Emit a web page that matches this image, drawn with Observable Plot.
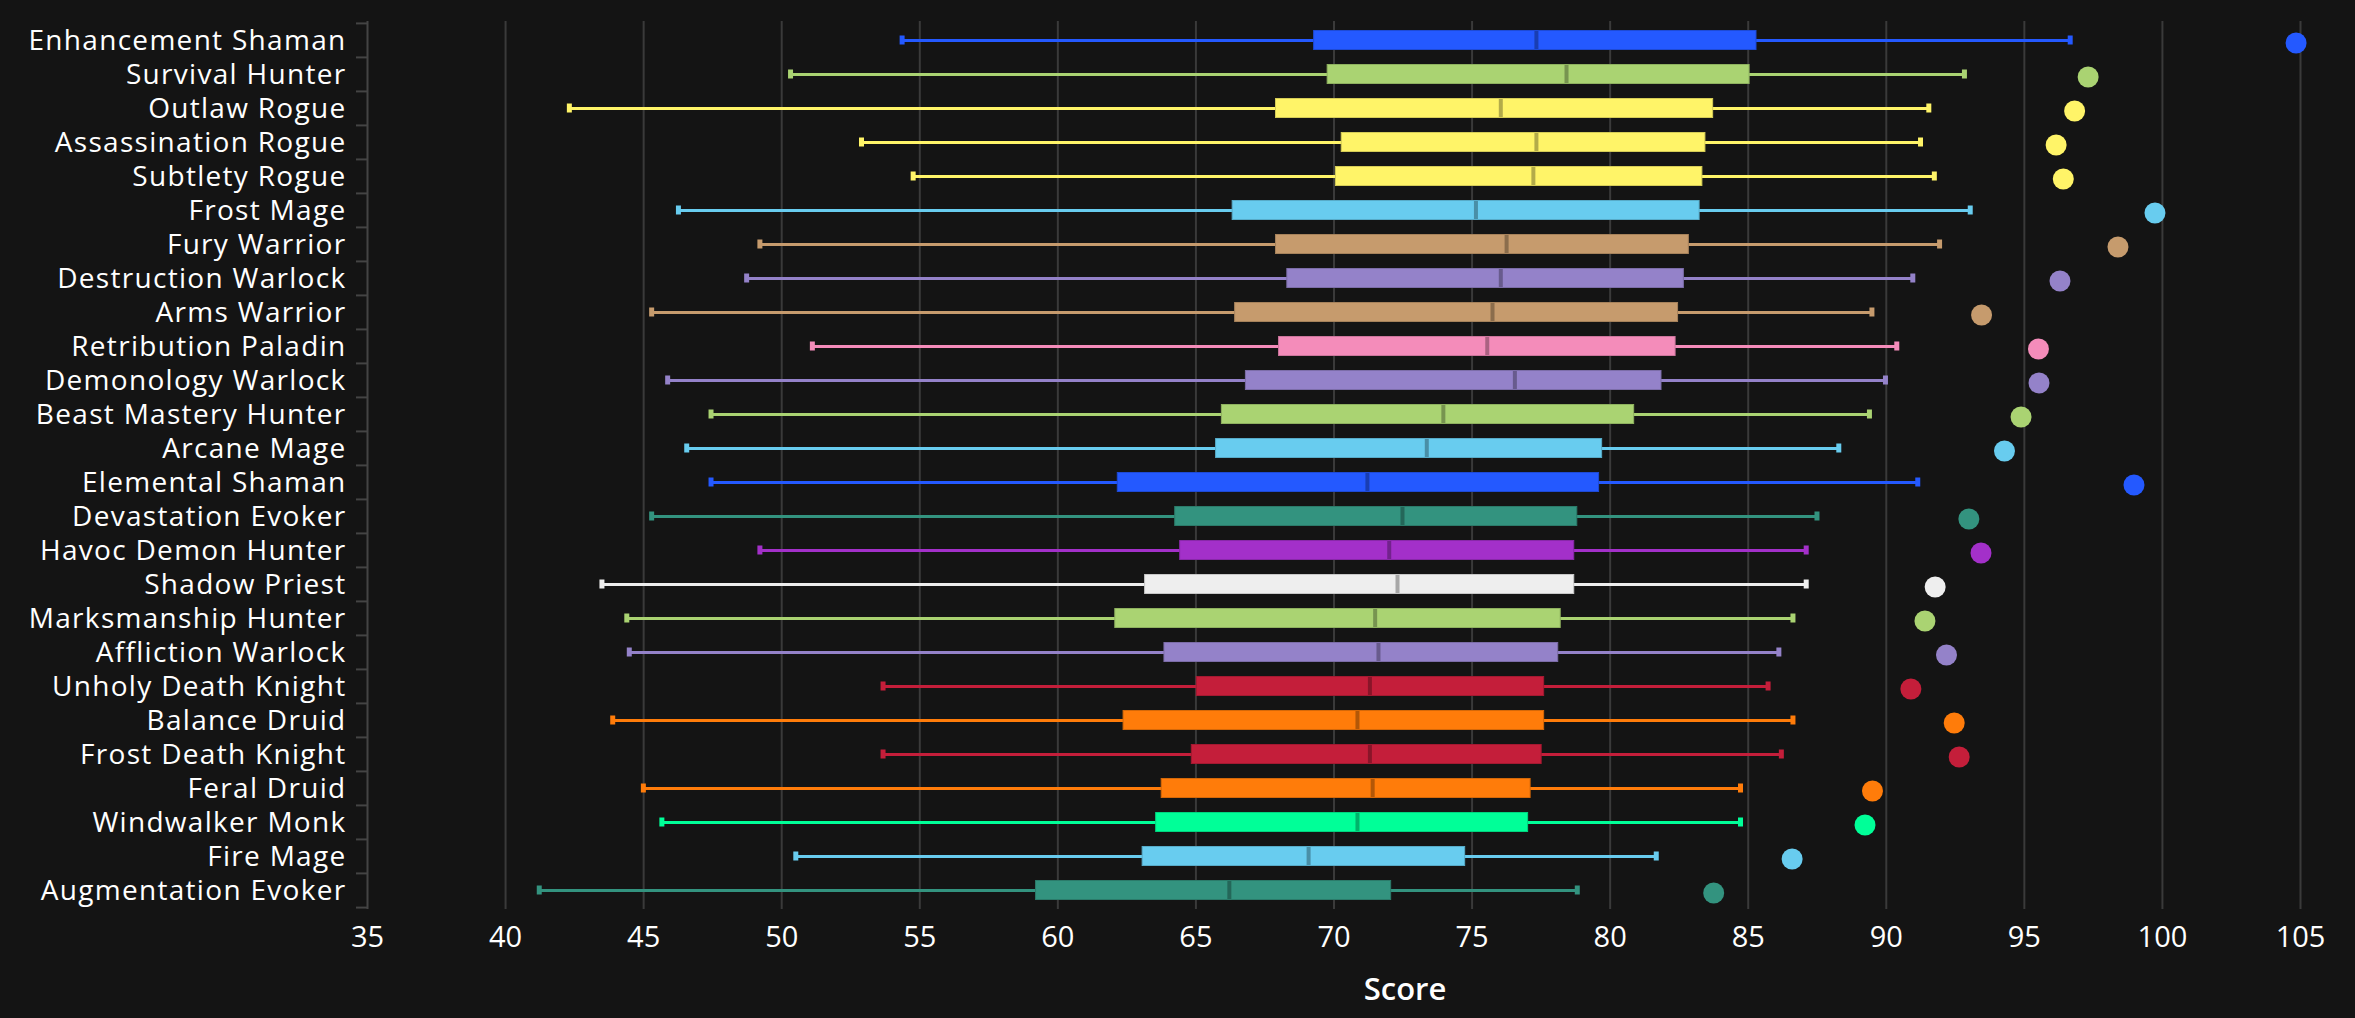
<!DOCTYPE html>
<html>
<head>
<meta charset="utf-8">
<script src="https://cdn.jsdelivr.net/npm/d3@7"></script>
<script src="https://cdn.jsdelivr.net/npm/@observablehq/plot@0.6"></script>
<style>
  html, body { margin: 0; padding: 0; background: #141414; }
  #chart svg { display: block; }
  #chart g[aria-label="y-axis tick label"] text { letter-spacing: 1.3px; }
</style>
</head>
<body>
<div id="chart"></div>
<script>
const specs = [
  "Enhancement Shaman", "Survival Hunter", "Outlaw Rogue", "Assassination Rogue",
  "Subtlety Rogue", "Frost Mage", "Fury Warrior", "Destruction Warlock",
  "Arms Warrior", "Retribution Paladin", "Demonology Warlock", "Beast Mastery Hunter",
  "Arcane Mage", "Elemental Shaman", "Devastation Evoker", "Havoc Demon Hunter",
  "Shadow Priest", "Marksmanship Hunter", "Affliction Warlock", "Unholy Death Knight",
  "Balance Druid", "Frost Death Knight", "Feral Druid", "Windwalker Monk",
  "Fire Mage", "Augmentation Evoker"
];
const specColors = [
  "#2459ff", "#aad372", "#fff468", "#fff468",
  "#fff468", "#68ccef", "#c69b6d", "#9482c9",
  "#c69b6d", "#f48cba", "#9482c9", "#aad372",
  "#68ccef", "#2459ff", "#33937f", "#a330c9",
  "#eeeeee", "#aad372", "#9482c9", "#c41e3a",
  "#ff7c0a", "#c41e3a", "#ff7c0a", "#00ff98",
  "#68ccef", "#33937f"
];
const mins = [
  54.36, 50.32, 42.31, 52.89, 54.76, 46.26, 49.21, 48.73,
  45.29, 51.11, 45.87, 47.44, 46.56, 47.44, 45.29, 49.21,
  43.49, 44.39, 44.48, 53.67, 43.88, 53.67, 44.99, 45.66,
  50.51, 41.22
];
const q1s = [
  69.28, 69.77, 67.90, 70.28, 70.07, 66.33, 67.90, 68.31,
  66.42, 68.01, 66.81, 65.94, 65.73, 62.17, 64.25, 64.43,
  63.16, 62.08, 63.86, 65.03, 62.38, 64.85, 63.76, 63.56,
  63.07, 59.21
];
const medians = [
  77.33, 78.42, 76.04, 77.33, 77.22, 75.14, 76.25, 76.04,
  75.74, 75.55, 76.55, 73.96, 73.36, 71.21, 72.48, 72.00,
  72.30, 71.49, 71.61, 71.30, 70.85, 71.30, 71.40, 70.85,
  69.08, 66.21
];
const q3s = [
  85.30, 85.05, 83.73, 83.45, 83.34, 83.24, 82.85, 82.67,
  82.46, 82.37, 81.86, 80.87, 79.71, 79.60, 78.81, 78.70,
  78.70, 78.21, 78.12, 77.61, 77.61, 77.52, 77.12, 77.03,
  74.75, 72.07
];
const maxs = [
  96.66, 92.83, 91.54, 91.24, 91.74, 93.04, 91.93, 90.96,
  89.48, 90.38, 89.97, 89.39, 88.28, 91.14, 87.49, 87.10,
  87.10, 86.62, 86.11, 85.72, 86.62, 86.20, 84.72, 84.72,
  81.67, 78.81
];
const topScores = [
  104.84, 97.31, 96.82, 96.15, 96.41, 99.73, 98.39, 96.29,
  93.45, 95.51, 95.53, 94.88, 94.28, 98.97, 92.99, 93.43,
  91.77, 91.40, 92.18, 90.89, 92.46, 92.64, 89.50, 89.23,
  86.59, 83.75
];
const xTicks = [35, 40, 45, 50, 55, 60, 65, 70, 75, 80, 85, 90, 95, 100, 105];
const xLabel = "Score";

const rows = specs.map((s, i) => ({
  spec: s,
  color: specColors[i],
  dark: d3.color(specColors[i]).darker(1).formatHex(),
  edge: d3.color(specColors[i]).darker(0.5).formatHex(),
  min: mins[i], q1: q1s[i], median: medians[i], q3: q3s[i], max: maxs[i], top: topScores[i]
}));

const font = "'Open Sans', 'Noto Sans', sans-serif";
const step = (1018 - 21 - 109) / specs.length;

const chart = Plot.plot({
  width: 2355,
  height: 1018,
  marginLeft: 367,
  marginRight: 55,
  marginTop: 21,
  marginBottom: 109,
  style: { background: "#141414", color: "#ffffff", fontFamily: font, fontSize: "28px" },
  x: { domain: [35, 105], label: null },
  y: { domain: specs, padding: 0, label: null },
  color: { type: "identity" },
  marks: [
    Plot.gridX(xTicks.slice(1), { stroke: "#3a3a3a", strokeOpacity: 1, strokeWidth: 2 }),
    Plot.ruleX([35], { stroke: "#444444", strokeWidth: 2 }),
    Plot.axisY({ tickSize: 11, text: null, stroke: "#444444", strokeWidth: 2, dy: -step / 2 }),
    Plot.axisY([specs[specs.length - 1]], { tickSize: 11, text: null, stroke: "#444444", strokeWidth: 2, dy: step / 2 }),
    Plot.axisY({ tickSize: 0, tickPadding: 21, fill: "#ffffff", fontSize: 28, dy: 1 }),
    Plot.axisX({ ticks: xTicks, tickSize: 0, tickPadding: 17, fill: "#ffffff", fontSize: 29, label: null }),
    Plot.text([xLabel], { frameAnchor: "bottom", dx: 71, dy: 81, fill: "#ffffff", fontSize: 31, fontWeight: 600, lineAnchor: "middle" }),
    Plot.ruleY(rows, { y: "spec", x1: "min", x2: "max", stroke: "color", strokeWidth: 3 }),
    Plot.tickX(rows, { y: "spec", x: "min", stroke: "color", strokeWidth: 5, insetTop: 12.5, insetBottom: 12.5 }),
    Plot.tickX(rows, { y: "spec", x: "max", stroke: "color", strokeWidth: 5, insetTop: 12.5, insetBottom: 12.5 }),
    Plot.barX(rows, { y: "spec", x1: "q1", x2: "q3", fill: "color", stroke: "edge", strokeWidth: 1, insetTop: 7.5, insetBottom: 7.5 }),
    Plot.tickX(rows, { y: "spec", x: "median", stroke: "dark", strokeWidth: 4, insetTop: 8, insetBottom: 8 }),
    Plot.dot(rows, { x: "top", y: "spec", fill: "color", r: 10.5, dy: 2.5 })
  ]
});
document.getElementById("chart").appendChild(chart);
</script>
</body>
</html>
